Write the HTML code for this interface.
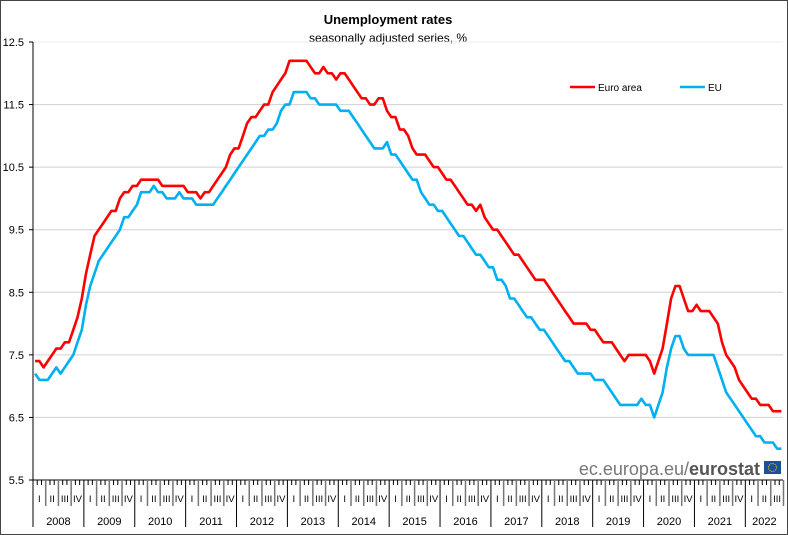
<!DOCTYPE html>
<html><head><meta charset="utf-8"><style>
html,body{margin:0;padding:0;background:#fff}
body{width:788px;height:535px;overflow:hidden;font-family:"Liberation Sans",sans-serif}
svg{display:block}
</style></head><body>
<svg id="chart" width="788" height="535" viewBox="0 0 788 535">
<rect x="0.5" y="0.5" width="787" height="534" fill="#fff" stroke="#444" stroke-width="1"/>
<text x="388" y="24" text-anchor="middle" font-size="13" font-weight="bold" fill="#000">Unemployment rates</text>
<text x="388" y="42" text-anchor="middle" font-size="12" fill="#000">seasonally adjusted series, %</text>
<g id="grid"></g>
<g id="yaxis"></g>
<g id="xaxis"></g>
<g id="series"></g>
<g>
<g><line x1="570" y1="87" x2="595" y2="87" stroke="#f00" stroke-width="2.5"/><text x="598" y="91" font-size="10" fill="#000">Euro area</text></g>
<g><line x1="680" y1="87" x2="705" y2="87" stroke="#00b0f0" stroke-width="2.5"/><text x="708" y="91" font-size="10" fill="#000">EU</text></g>
</g>
<g>
<text x="760" y="475" text-anchor="end" font-size="18" fill="#777">ec.europa.eu/<tspan font-weight="bold" fill="#555">eurostat</tspan></text>
<rect x="764" y="461" width="17" height="13" fill="#1f4e9c"/>
<circle cx="772.5" cy="467.5" r="4" fill="none" stroke="#ffd700" stroke-width="1" stroke-dasharray="1 1.1"/>
</g>
</svg>
<script>
const yTicks=[5.5,6.5,7.5,8.5,9.5,10.5,11.5,12.5];
const years=["2008","2009","2010","2011","2012","2013","2014","2015","2016","2017","2018","2019","2020","2021","2022"];
const quarters=["I","II","III","IV"];
const euroArea=[7.4,7.4,7.3,7.4,7.5,7.6,7.6,7.7,7.7,7.9,8.1,8.4,
8.8,9.1,9.4,9.5,9.6,9.7,9.8,9.8,10.0,10.1,10.1,10.2,
10.2,10.3,10.3,10.3,10.3,10.3,10.2,10.2,10.2,10.2,10.2,10.2,
10.1,10.1,10.1,10.0,10.1,10.1,10.2,10.3,10.4,10.5,10.7,10.8,
10.8,11.0,11.2,11.3,11.3,11.4,11.5,11.5,11.7,11.8,11.9,12.0,
12.2,12.2,12.2,12.2,12.2,12.1,12.0,12.0,12.1,12.0,12.0,11.9,
12.0,12.0,11.9,11.8,11.7,11.6,11.6,11.5,11.5,11.6,11.6,11.4,
11.3,11.3,11.1,11.1,11.0,10.8,10.7,10.7,10.7,10.6,10.5,10.5,
10.4,10.3,10.3,10.2,10.1,10.0,9.9,9.9,9.8,9.9,9.7,9.6,
9.5,9.5,9.4,9.3,9.2,9.1,9.1,9.0,8.9,8.8,8.7,8.7,
8.7,8.6,8.5,8.4,8.3,8.2,8.1,8.0,8.0,8.0,8.0,7.9,
7.9,7.8,7.7,7.7,7.7,7.6,7.5,7.4,7.5,7.5,7.5,7.5,
7.5,7.4,7.2,7.4,7.6,8.0,8.4,8.6,8.6,8.4,8.2,8.2,
8.3,8.2,8.2,8.2,8.1,8.0,7.7,7.5,7.4,7.3,7.1,7.0,
6.9,6.8,6.8,6.7,6.7,6.7,6.6,6.6,6.6];
const eu=[7.2,7.1,7.1,7.1,7.2,7.3,7.2,7.3,7.4,7.5,7.7,7.9,
8.3,8.6,8.8,9.0,9.1,9.2,9.3,9.4,9.5,9.7,9.7,9.8,
9.9,10.1,10.1,10.1,10.2,10.1,10.1,10.0,10.0,10.0,10.1,10.0,
10.0,10.0,9.9,9.9,9.9,9.9,9.9,10.0,10.1,10.2,10.3,10.4,
10.5,10.6,10.7,10.8,10.9,11.0,11.0,11.1,11.1,11.2,11.4,11.5,
11.5,11.7,11.7,11.7,11.7,11.6,11.6,11.5,11.5,11.5,11.5,11.5,
11.4,11.4,11.4,11.3,11.2,11.1,11.0,10.9,10.8,10.8,10.8,10.9,
10.7,10.7,10.6,10.5,10.4,10.3,10.3,10.1,10.0,9.9,9.9,9.8,
9.8,9.7,9.6,9.5,9.4,9.4,9.3,9.2,9.1,9.1,9.0,8.9,
8.9,8.7,8.7,8.6,8.4,8.4,8.3,8.2,8.1,8.1,8.0,7.9,
7.9,7.8,7.7,7.6,7.5,7.4,7.4,7.3,7.2,7.2,7.2,7.2,
7.1,7.1,7.1,7.0,6.9,6.8,6.7,6.7,6.7,6.7,6.7,6.8,
6.7,6.7,6.5,6.7,6.9,7.3,7.6,7.8,7.8,7.6,7.5,7.5,
7.5,7.5,7.5,7.5,7.5,7.3,7.1,6.9,6.8,6.7,6.6,6.5,
6.4,6.3,6.2,6.2,6.1,6.1,6.1,6.0,6.0];

const NS="http://www.w3.org/2000/svg";
const X0=33,MW=4.24,Y0=480,YT=42,VMIN=5.5,VMAX=12.5,XR=783;
const nMonths=Math.max(euroArea.length,eu.length);
function xm(i){return X0+i*MW;}
function xc(i){return X0+(i+0.5)*MW;}
function yv(v){return Y0-(v-VMIN)/(VMAX-VMIN)*(Y0-YT);}
function mk(tag,attrs,parent){const e=document.createElementNS(NS,tag);for(const k in attrs)e.setAttribute(k,attrs[k]);parent.appendChild(e);return e;}
const grid=document.getElementById('grid'),ya=document.getElementById('yaxis'),xa=document.getElementById('xaxis'),ser=document.getElementById('series');
yTicks.forEach(v=>{
  const y=yv(v);
  if(v>VMIN){const g=mk('line',{x1:X0,x2:XR,y1:y,y2:y,stroke:v===VMAX?'#eee':'#d0d0d0','stroke-width':1},grid);
  
  }
  const t=mk('line',{x1:X0-4,x2:X0,y1:y,y2:y,stroke:'#000'},ya);
  
  
  const l=mk('text',{x:24,y:y+4,'text-anchor':'end','font-size':11,fill:'#000'},ya);
  l.textContent=v.toFixed(1);
  
  
});
const ax=mk('line',{x1:X0,x2:X0,y1:YT,y2:Y0,stroke:'#000','stroke-width':1},ya);


const bx=mk('line',{x1:X0,x2:XR,y1:Y0,y2:Y0,stroke:'#000','stroke-width':1},xa);


for(let i=0;i<=nMonths;i++){
  const x=xm(i);
  let len=5,col='#000',w=1;
  if(i%12===0){len=47;col='#000';}
  else if(i%3===0){len=26;col='#777';w=1.5;}
  const t=mk('line',{x1:x,x2:x,y1:Y0,y2:Y0+len,stroke:col,'stroke-width':w},xa);
  
  
}
years.forEach((yr,yi)=>{
  for(let q=0;q<4;q++){
    const s=yi*12+q*3;if(s>=nMonths)break;
    const t=mk('text',{x:xm(s+1.5),y:Y0+22,'text-anchor':'middle','font-size':9.5,fill:'#000'},xa);
    t.textContent=quarters[q];
    
    
  }
  const end=Math.min(yi*12+12,nMonths);
  const t=mk('text',{x:(xm(yi*12)+xm(end))/2,y:Y0+45,'text-anchor':'middle','font-size':11,fill:'#000'},xa);
  t.textContent=yr;
  
  
});
function drawLine(arr,color,name){
  const pts=arr.map((v,i)=>xc(i).toFixed(1)+','+yv(v).toFixed(1)).join(' ');
  const p=mk('polyline',{points:pts,fill:'none',stroke:color,'stroke-width':2.6,'stroke-linejoin':'round'},ser);
  
  
}
drawLine(eu,'#00b0f0','eu-line');
drawLine(euroArea,'#ff0000','euro-area-line');
</script>
</body></html>
